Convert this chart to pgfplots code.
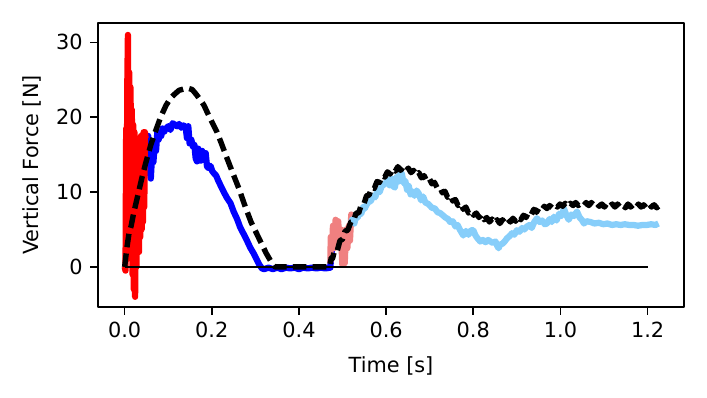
\documentclass[border=0pt]{standalone}
\usepackage{fontspec}
\setmainfont{DejaVu Sans}
\usepackage{pgfplots}
\pgfplotsset{compat=1.18}
\definecolor{lcoral}{RGB}{240,128,128}
\definecolor{lsky}{RGB}{135,206,250}
\begin{document}
\begin{tikzpicture}
\begin{axis}[
  name=ax,
  scale only axis,
  width=281.3pt, height=136.3pt,
  xmin=-0.0613, xmax=1.2837, ymin=-5.35, ymax=32.6,
  xtick={0,0.2,0.4,0.6,0.8,1.0,1.2},
  xticklabels={0.0,0.2,0.4,0.6,0.8,1.0,1.2},
  ytick={0,10,20,30},
  tick pos=left, tick align=outside,
  major tick length=3.8pt,
  every tick/.style={black, line width=0.8pt},
  axis line style={line width=0.8pt},
  /pgf/number format/assume math mode=true,
  ticklabel style={font=\fontsize{10}{12}\selectfont},
  xlabel={Time [s]}, ylabel={Vertical Force [N]},
  label style={font=\fontsize{10}{12}\selectfont},
  xlabel style={at={(axis description cs:0.5,0)}, anchor=base, yshift=-31.5pt},
  ylabel style={at={(axis description cs:-0.113,0.5)}, anchor=center},
  clip=false,
  line join=round,
]
% blue
\addplot[blue, line width=3pt] coordinates {
(0.046,16.5)(0.048,17.2)(0.051,15.5)(0.054,17.5)(0.057,13)(0.060,11.8)(0.063,15)(0.066,14)(0.069,16.5)(0.072,15.5)(0.075,18)(0.078,17)(0.081,18)(0.084,17.5)(0.087,18.5)(0.090,18)(0.095,18.5)(0.100,18.8)(0.105,18.3)(0.110,19.2)(0.115,19)(0.120,18.8)(0.125,19.1)(0.130,18.6)(0.135,18.9)(0.140,18.7)(0.143,17.2)(0.146,18.8)(0.149,16.5)(0.153,17)(0.157,16)(0.160,16.3)(0.163,14.5)(0.166,14.1)(0.169,15.8)(0.172,14.5)(0.175,14.2)(0.178,15.5)(0.182,14.5)(0.186,15.2)(0.189,13.4)(0.193,13.2)(0.197,13.5)(0.201,12.8)(0.205,12.5)(0.210,12.2)(0.215,11.5)(0.220,10.9)(0.2275,10.0)(0.235,9.2)(0.243,8.5)(0.250,7.4)(0.258,6.4)(0.265,5.3)(0.273,4.4)(0.280,3.6)(0.288,2.6)(0.296,1.8)(0.303,1.0)(0.309,0.3)(0.315,-0.2)(0.320,-0.3)(0.330,-0.1)(0.340,-0.3)(0.350,-0.1)(0.360,-0.3)(0.370,-0.1)(0.380,-0.2)(0.390,-0.1)(0.400,-0.3)(0.410,-0.1)(0.420,-0.2)(0.430,-0.1)(0.440,-0.2)(0.450,-0.1)(0.460,-0.2)(0.472,-0.1)(0.474,1.5)(0.476,2.5)
};
% red
\addplot[red, line width=3pt] coordinates {
(0.000,0)(0.002,-0.5)(0.0035,18.5)(0.0045,1)(0.006,24)(0.0075,31)(0.009,10)(0.0105,26)(0.012,8)(0.0135,24)(0.015,9)(0.0165,21)(0.018,-1)(0.0195,19)(0.021,-3)(0.0225,18)(0.024,-4)(0.0255,16)(0.027,0)(0.0285,17)(0.030,3)(0.0315,16)(0.033,2)(0.0345,17)(0.036,4)(0.0375,17.5)(0.039,5)(0.0405,17)(0.042,6)(0.0435,18)(0.045,8)(0.0465,18)(0.048,17.2)
};
% light coral
\addplot[lcoral, line width=3pt] coordinates {
(0.472,0.5)(0.473,4)(0.476,2.5)(0.478,5.5)(0.481,2.5)(0.484,6.3)(0.487,3)(0.490,6.1)(0.493,3)(0.496,5)(0.4995,0.3)(0.502,3)(0.505,0.5)(0.508,5)(0.511,2.5)(0.5145,5.5)(0.517,3.5)(0.520,7)(0.523,5.8)
};
% light sky blue
\addplot[lsky, line width=3pt] coordinates {
(0.520,6.0)(0.523,6.4)(0.527,5.8)(0.531,6.8)(0.535,6.6)(0.539,7.4)(0.543,7.1)(0.547,8.0)(0.551,7.8)(0.555,8.3)(0.560,8.7)(0.565,8.8)(0.570,9.5)(0.575,9.3)(0.580,10.2)(0.585,10.0)(0.590,10.8)(0.595,11.0)(0.600,11.3)(0.604,11.6)(0.608,10.9)(0.612,11.8)(0.616,10.8)(0.620,10.6)(0.624,12.0)(0.628,11.4)(0.632,12.4)(0.636,12.5)(0.640,11.2)(0.644,11.5)(0.648,10.3)(0.652,10.8)(0.656,9.7)(0.660,10.1)(0.665,9.5)(0.670,10.2)(0.675,9.8)(0.680,8.9)(0.685,9.4)(0.690,8.6)(0.697,8.4)(0.705,7.9)(0.712,7.8)(0.718,7.3)(0.724,7.2)(0.730,6.9)(0.736,6.6)(0.742,6.4)(0.747,6.0)(0.753,6.1)(0.759,5.4)(0.764,5.6)(0.770,4.9)(0.777,4.2)(0.783,4.8)(0.789,4.3)(0.795,4.9)(0.800,4.9)(0.805,4.2)(0.810,3.8)(0.816,3.4)(0.822,3.6)(0.828,3.3)(0.834,3.6)(0.839,3.4)(0.845,3.2)(0.851,3.4)(0.855,2.8)(0.858,2.5)(0.862,3.0)(0.867,3.1)(0.872,3.4)(0.877,3.8)(0.883,4.1)(0.889,4.5)(0.894,4.3)(0.900,4.9)(0.906,4.7)(0.912,5.2)(0.917,5.0)(0.923,5.4)(0.929,5.6)(0.934,5.2)(0.940,6.0)(0.946,6.5)(0.952,6.0)(0.958,6.2)(0.964,5.7)(0.969,5.8)(0.975,6.4)(0.980,6.0)(0.985,6.7)(0.991,6.2)(0.997,7.1)(1.002,6.8)(1.008,7.8)(1.013,7.0)(1.019,6.3)(1.025,7.0)(1.031,6.8)(1.038,7.4)(1.044,6.6)(1.049,6.3)(1.054,5.8)(1.060,6.1)(1.069,6.0)(1.078,5.8)(1.088,5.9)(1.098,5.7)(1.108,5.8)(1.118,5.6)(1.128,5.7)(1.138,5.6)(1.148,5.7)(1.158,5.6)(1.168,5.6)(1.178,5.5)(1.188,5.6)(1.198,5.6)(1.208,5.7)(1.218,5.6)(1.225,5.8)
};
% black dashed
\addplot[black, line width=2.6pt, dash pattern=on 6.5pt off 3pt] coordinates {
(0,0)(0.005,2.5)(0.01,4.5)(0.015,5.5)(0.02,7)(0.03,9.5)(0.04,12)(0.048,13.8)(0.06,16.3)(0.07,18)(0.0825,20)(0.095,21.6)(0.105,22.5)(0.113,23)(0.125,23.6)(0.1436,23.9)(0.155,23.7)(0.165,23)(0.175,22.2)(0.182,21.6)(0.19,20.6)(0.2,19.4)(0.212,18)(0.222,16.5)(0.235,14.5)(0.247,12.7)(0.262,10.5)(0.277,8)(0.29,6)(0.30,4.8)(0.3116,3.4)(0.325,1.8)(0.338,0.5)(0.345,0)(0.36,0)(0.38,0)(0.40,0)(0.42,0)(0.44,0)(0.46,0)
(0.470,0)(0.474,1.2)(0.477,1.1)(0.482,2.3)(0.488,2.2)(0.494,3.5)(0.500,3.7)(0.506,4.8)(0.512,4.9)(0.519,6.0)(0.525,6.1)(0.531,7.2)(0.537,7.2)(0.543,8.3)(0.549,8.4)(0.555,9.5)(0.561,9.6)(0.567,10.6)(0.573,10.5)(0.579,11.4)(0.585,11.3)(0.591,12.2)(0.597,12.0)(0.603,12.7)(0.609,12.4)(0.615,13.1)(0.621,12.8)(0.627,13.4)(0.633,12.9)(0.639,13.3)(0.645,12.8)(0.651,13.2)(0.657,12.6)(0.663,12.9)(0.669,12.3)(0.675,12.6)(0.681,11.9)(0.687,12.2)(0.693,11.5)(0.699,11.8)(0.705,11.1)(0.711,11.3)(0.717,10.6)(0.723,10.7)(0.729,9.9)(0.735,10.1)(0.741,9.3)(0.747,9.6)(0.753,8.8)(0.759,9.0)(0.765,8.2)(0.771,8.5)(0.777,7.7)(0.783,8.0)(0.789,7.2)(0.795,7.5)(0.801,6.9)(0.807,7.2)(0.813,6.6)(0.819,7.0)(0.825,6.3)(0.831,6.6)(0.837,6.0)(0.843,6.4)(0.849,5.9)(0.855,6.3)(0.861,5.8)(0.867,6.3)(0.873,5.9)(0.879,6.4)(0.885,6.0)(0.891,6.5)(0.897,6.1)(0.903,6.7)(0.909,6.3)(0.915,6.9)(0.921,6.6)(0.927,7.3)(0.933,7.0)(0.939,7.7)(0.945,7.3)(0.951,7.9)(0.957,7.6)(0.963,8.1)(0.969,7.8)(0.975,8.2)(0.981,7.9)(0.987,8.3)(0.993,8.0)(0.999,8.4)(1.005,8.1)(1.011,8.5)(1.017,8.1)(1.023,8.5)(1.029,8.2)(1.035,8.6)(1.041,8.2)(1.047,8.5)(1.053,8.2)(1.059,8.6)(1.065,8.2)(1.071,8.6)(1.077,8.2)(1.083,8.5)(1.089,8.1)(1.095,8.4)(1.101,8.0)(1.107,8.5)(1.113,8.1)(1.119,8.4)(1.125,8.0)(1.131,8.4)(1.137,8.0)(1.143,8.3)(1.149,7.9)(1.155,8.4)(1.161,8.0)(1.167,8.3)(1.173,7.9)(1.179,8.4)(1.185,8.0)(1.191,8.3)(1.197,7.9)(1.203,8.4)(1.209,8.0)(1.215,8.3)(1.221,7.9)(1.225,8.1)
};
% zero line
\addplot[black, line width=0.8pt] coordinates {(0,0)(1.2,0)};
\end{axis}
\pgfresetboundingbox
\path ([shift={(-47pt,-43.7pt)}]ax.south west) rectangle ([shift={(11pt,11pt)}]ax.north east);
\end{tikzpicture}
\end{document}
